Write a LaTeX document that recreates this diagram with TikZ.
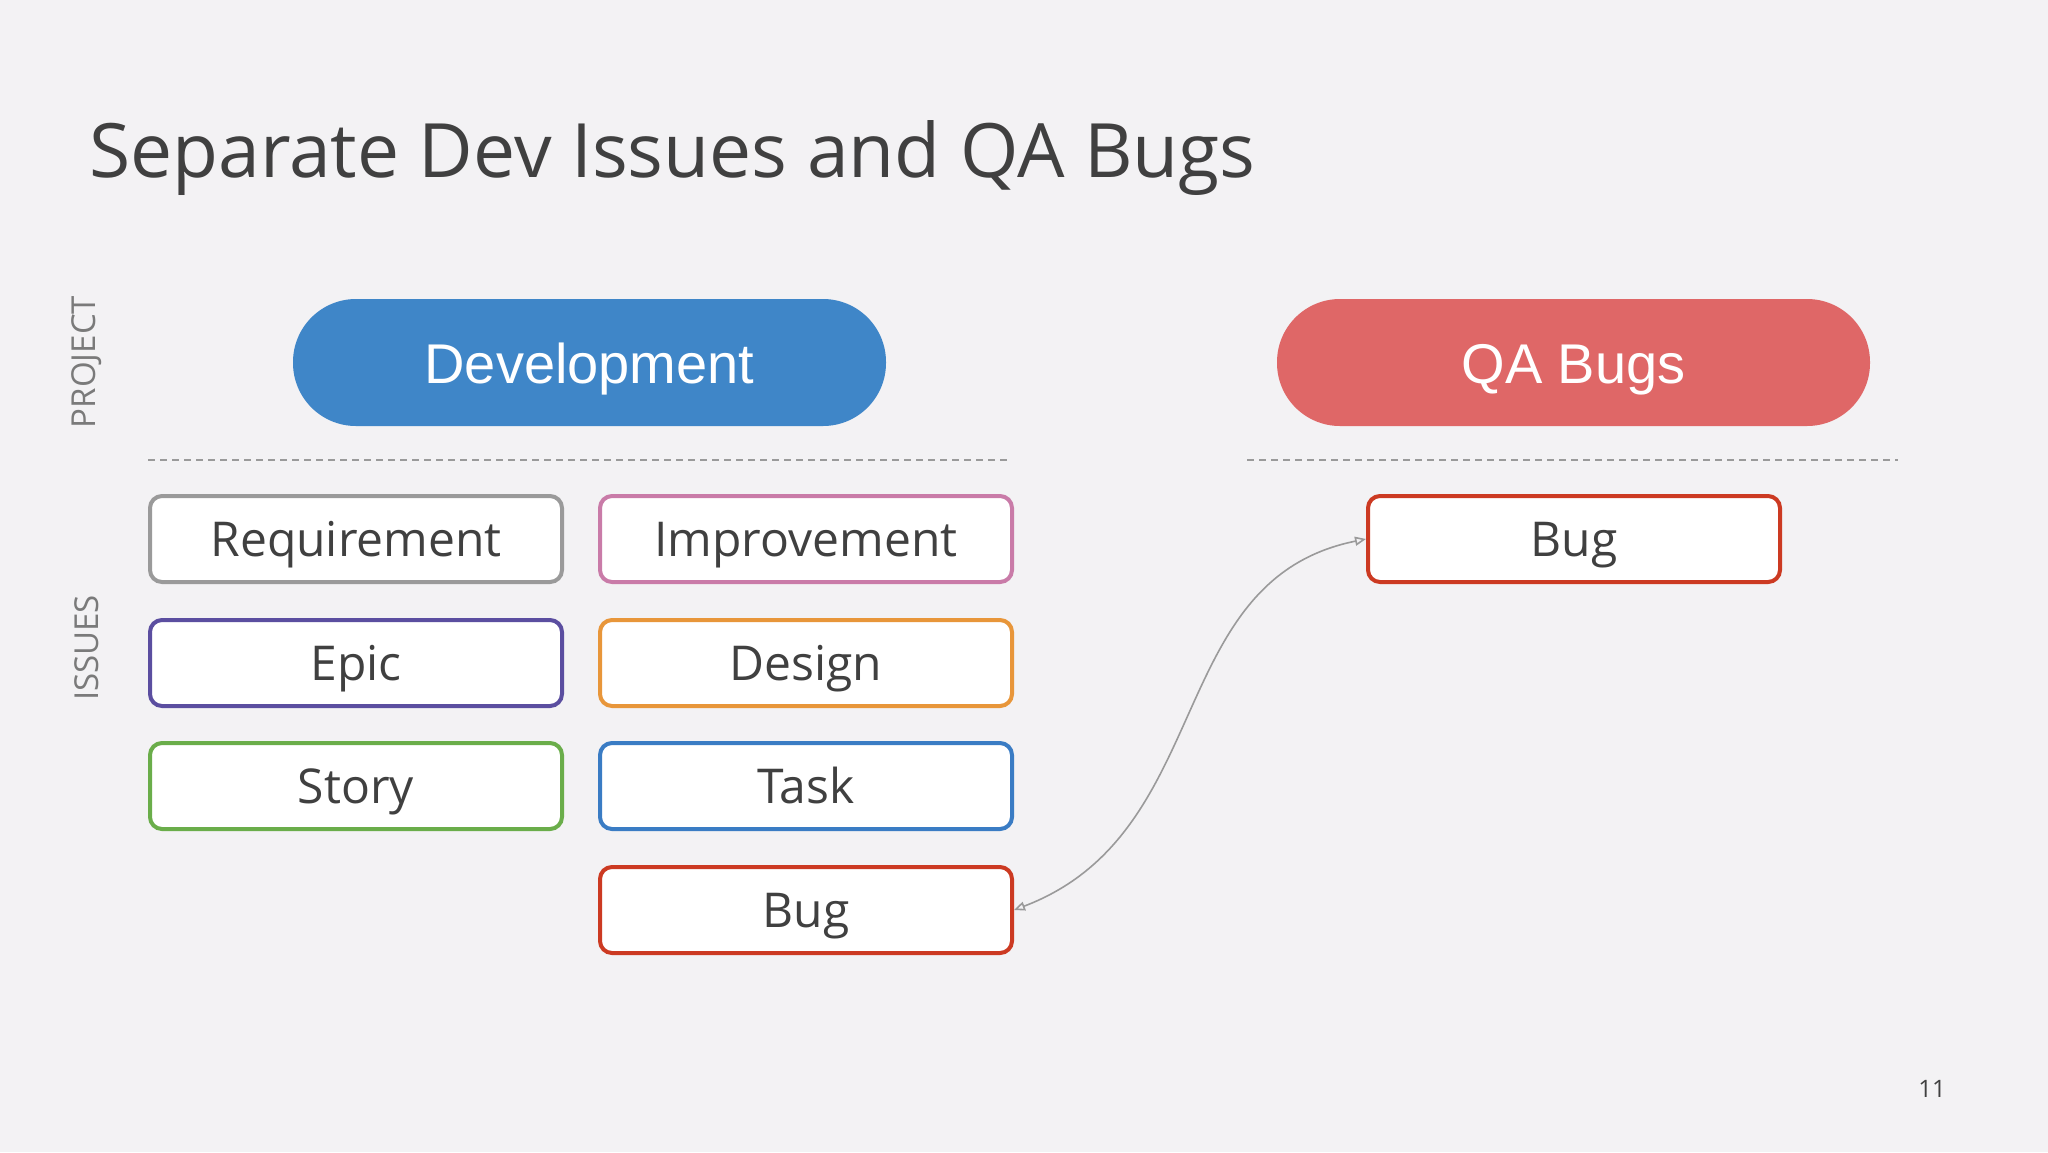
\documentclass[tikz,border=0pt]{standalone}
\usepackage{fontspec}
\setmainfont{Open Sans}
\newfontfamily\pillfont{Liberation Sans}
\usetikzlibrary{arrows.meta}
\definecolor{bg}{HTML}{F3F2F4}
\definecolor{txt}{HTML}{404040}
\definecolor{lbl}{HTML}{7A7A7A}
\definecolor{devblue}{HTML}{3F86C8}
\definecolor{qared}{HTML}{DF6767}
\definecolor{cgray}{HTML}{9A9A9A}
\definecolor{cpink}{HTML}{C97BA8}
\definecolor{cpurple}{HTML}{5B4EA0}
\definecolor{corange}{HTML}{E8963A}
\definecolor{cgreen}{HTML}{6AAD4A}
\definecolor{cblue}{HTML}{3A7CC4}
\definecolor{cred}{HTML}{CC3A22}
\tikzset{
  issuebox/.style={draw=#1, line width=4pt, fill=white, rounded corners=12pt,
    minimum width=412pt, minimum height=86pt, inner sep=0pt, text=txt,
    text height=46pt, text depth=12pt,
    font=\fontsize{48}{54}\selectfont},
  pill/.style={fill=#1, rounded corners=63pt, minimum width=593pt, minimum height=127pt,
    inner sep=0pt, text=white, text height=41pt, text depth=0pt,
    font=\pillfont\fontsize{56}{62}\selectfont},
  sidelabel/.style={rotate=90, text=lbl, font=\fontsize{33}{40}\selectfont, inner sep=0pt},
  sepline/.style={draw=cgray, line width=2pt, dash pattern=on 7pt off 5pt},
  link/.style={draw=cgray, line width=1.6pt, {Triangle[open,length=11pt,width=9pt]}-{Triangle[open,length=11pt,width=9pt]}}
}
\begin{document}
\begin{tikzpicture}[x=1pt,y=-1pt]
\useasboundingbox[fill=bg] (0,0) rectangle (2048,1152);
\node[anchor=base west, text=txt, font=\fontsize{75}{86}\selectfont, inner sep=0pt] (title) at (89,177) {Separate Dev Issues and QA Bugs};
\node[sidelabel] (project) at (87,362) {PROJECT};
\node[sidelabel] (issues) at (87,648) {ISSUES};
\node[pill=devblue] (dev) at (589.5,362.5) {Development};
\node[pill=qared] (qa) at (1573.5,362.5) {QA Bugs};
\coordinate (l1) at (148,460); \coordinate (l2) at (1008,460);
\coordinate (r1) at (1247,460); \coordinate (r2) at (1898,460);
\draw[sepline] (l1) -- (l2);
\draw[sepline] (r1) -- (r2);
\node[issuebox=cgray] (req) at (356,539) {Requirement};
\node[issuebox=cpink] (imp) at (806,539) {Improvement};
\node[issuebox=cpurple] (epic) at (356,663) {Epic};
\node[issuebox=corange] (design) at (806,663) {Design};
\node[issuebox=cgreen] (story) at (356,786) {Story};
\node[issuebox=cblue] (task) at (806,786) {Task};
\node[issuebox=cred] (devbug) at (806,910) {Bug};
\node[issuebox=cred] (qabug) at (1574,539) {Bug};
\draw[link] (devbug.east) .. controls (1217,833) and (1163,580) .. (qabug.west);
\node[text=txt, font=\fontsize{24}{28}\selectfont, inner sep=0pt] (page) at (1932,1089) {11};
\end{tikzpicture}
\end{document}
